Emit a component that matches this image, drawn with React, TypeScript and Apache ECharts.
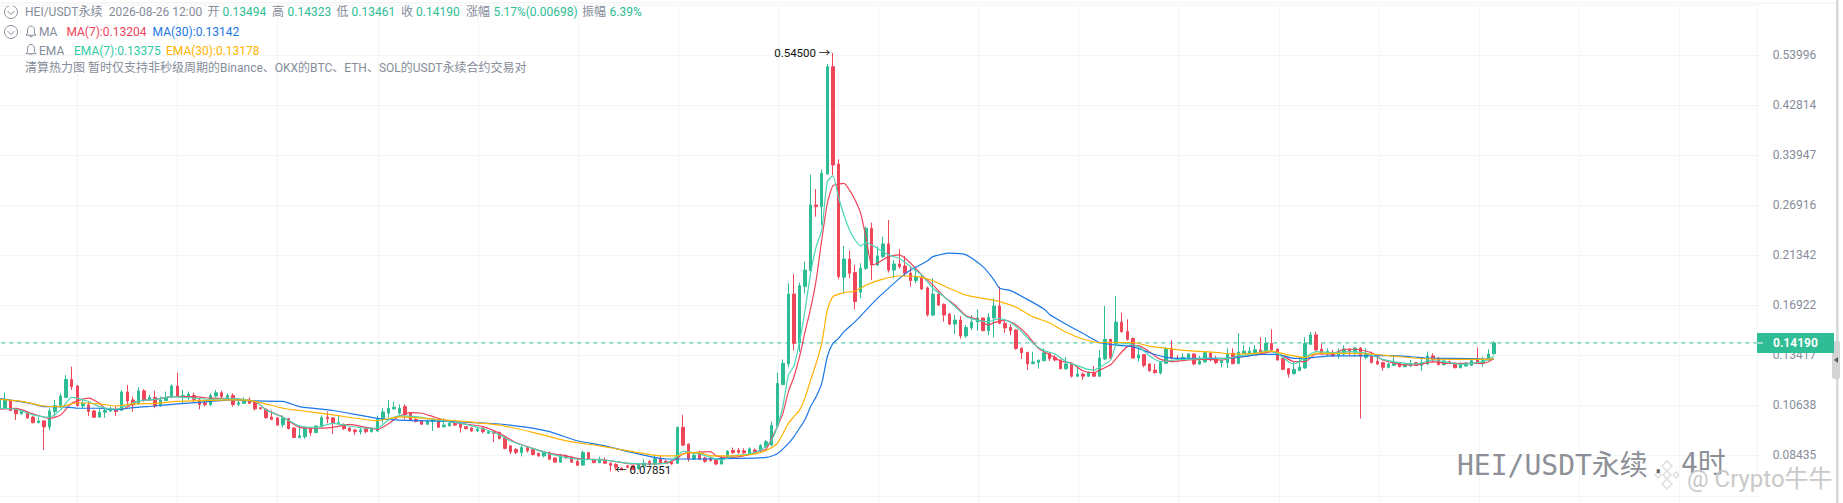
import React, { useEffect, useRef } from "react";
import * as echarts from "echarts";

const UP = "#2ebd94";
const DOWN = "#f0465a";
const MA7_COLOR = "#f0435a";
const MA30_COLOR = "#1a78e6";
const EMA7_COLOR = "#4ad6b6";
const EMA30_COLOR = "#ffb300";
const GRID = "#f4f5f6";
const GRAY = "#868c9a";
const FONT = 'Roboto, "Noto Sans CJK SC", sans-serif';

const priceTicks = ["", "0.08435", "0.10638", "0.13417", "0.16922", "0.21342", "0.26916", "0.33947", "0.42814", "0.53996", ""];
const priceMin = 0.06688;
const priceMax = 0.68101;
const lastPrice = 0.1419;
const LEAD = 4;
const TRAIL = 48;

// [open, close, low, high]
const candles: number[][] = [
[.1045,.1092,.1045,.1095],[.1048,.1089,.1045,.1128],[.1084,.1037,.1034,.1089],[.1043,.1021,.0992,.1048],[.1021,.1032,.1018,.1043],
[.1027,.1002,.0998,.1030],[.1006,.0980,.0977,.1011],[.0980,.0988,.0977,.1004],[.0988,.0961,.0863,.0992],[.0961,.1035,.0947,.1048],
[.1032,.1061,.1008,.1089],[.1061,.1109,.1048,.1123],[.1102,.1198,.1098,.1223],[.1198,.1158,.1141,.1271],[.1162,.1061,.1056,.1167],
[.1059,.1072,.1048,.1089],[.1064,.1032,.1011,.1081],[.1035,.1005,.1002,.1040],[.1006,.1029,.1002,.1048],[.1029,.1037,.1002,.1048],
[.1035,.1043,.1030,.1056],[.1043,.1032,.1011,.1056],[.1038,.1130,.1034,.1141],[.1130,.1084,.1056,.1167],[.1089,.1064,.1030,.1106],
[.1072,.1136,.1064,.1155],[.1136,.1089,.1079,.1145],[.1089,.1102,.1084,.1115],[.1102,.1059,.1048,.1137],[.1059,.1089,.1056,.1106],
[.1086,.1102,.1084,.1132],[.1102,.1162,.1098,.1171],[.1162,.1106,.1102,.1236],[.1102,.1112,.1072,.1141],[.1106,.1119,.1089,.1132],
[.1112,.1092,.1075,.1126],[.1089,.1066,.1043,.1102],[.1075,.1066,.1056,.1092],[.1066,.1112,.1059,.1123],[.1109,.1126,.1102,.1141],
[.1126,.1106,.1100,.1137],[.1102,.1112,.1089,.1123],[.1112,.1066,.1056,.1123],[.1067,.1075,.1059,.1092],[.1072,.1089,.1069,.1102],
[.1089,.1072,.1069,.1102],[.1079,.1045,.1037,.1089],[.1050,.1045,.1043,.1053],[.1043,.1003,.0998,.1048],[.1006,.0995,.0992,.1037],
[.1002,.0969,.0968,.1005],[.0971,.1002,.0959,.1014],[.0998,.0953,.0950,.1002],[.0956,.0915,.0912,.0959],[.0915,.0922,.0911,.0968],
[.0918,.0958,.0909,.0962],[.0955,.0936,.0922,.0959],[.0936,.0965,.0933,.0968],[.0962,.1003,.0959,.1014],[.1005,.0998,.0977,.1032],
[.1002,.0977,.0930,.1005],[.0977,.0980,.0974,.1011],[.0971,.0953,.0947,.0977],[.0956,.0943,.0939,.0959],[.0947,.0940,.0926,.0953],
[.0940,.0947,.0927,.0959],[.0953,.0940,.0933,.0959],[.0940,.0952,.0936,.0959],[.0943,.0995,.0939,.1011],[.0995,.1030,.0977,.1048],
[.1024,.1048,.1003,.1089],[.1045,.1053,.1040,.1081],[.1024,.1048,.1016,.1067],[.1056,.1018,.0995,.1067],[.1024,.0992,.0988,.1027],
[.0995,.0986,.0981,.1000],[.0989,.0973,.0970,.0992],[.0973,.0986,.0970,.0995],[.0985,.0995,.0943,.1000],[.0989,.0959,.0958,.0995],
[.0962,.0969,.0958,.1000],[.0966,.0977,.0962,.0985],[.0977,.0969,.0965,.0983],[.0974,.0959,.0936,.0985],[.0962,.0953,.0950,.0965],
[.0956,.0943,.0939,.0959],[.0943,.0951,.0939,.0959],[.0953,.0940,.0933,.0962],[.0933,.0940,.0930,.0947],[.0938,.0933,.0895,.0941],
[.0937,.0910,.0907,.0940],[.0913,.0870,.0866,.0919],[.0880,.0856,.0847,.0882],[.0866,.0854,.0847,.0870],[.0853,.0873,.0838,.0880],
[.0873,.0860,.0853,.0880],[.0866,.0845,.0842,.0870],[.0850,.0840,.0837,.0853],[.0840,.0853,.0833,.0858],[.0853,.0827,.0824,.0857],
[.0832,.0816,.0814,.0834],[.0816,.0842,.0814,.0848],[.0840,.0833,.0829,.0845],[.0834,.0816,.0814,.0837],[.0819,.0804,.0802,.0827],
[.0805,.0853,.0804,.0861],[.0853,.0829,.0824,.0855],[.0824,.0814,.0812,.0829],[.0814,.0827,.0812,.0837],[.0824,.0812,.0809,.0834],
[.0812,.0804,.0782,.0814],[.0807,.0797,.07851,.0812],[.0793,.0787,.0786,.0797],[.0802,.0797,.0793,.0805],[.0802,.0789,.0786,.0805],
[.0792,.0807,.0787,.0812],[.0802,.0812,.0797,.0827],[.0818,.0807,.0802,.0824],[.0809,.0829,.0804,.0845],[.0829,.0812,.0807,.0840],
[.0819,.0812,.0809,.0824],[.0817,.0809,.0807,.0819],[.0812,.0959,.0809,.0962],[.0959,.0883,.0880,.1016],[.0887,.0827,.0818,.0890],
[.0827,.0843,.0824,.0850],[.0848,.0827,.0824,.0860],[.0832,.0819,.0814,.0837],[.0829,.0822,.0818,.0843],[.0824,.0809,.0804,.0827],
[.0809,.0834,.0807,.0840],[.0832,.0858,.0829,.0863],[.0861,.0853,.0847,.0873],[.0862,.0854,.0848,.0872],[.0860,.0852,.0849,.0870],
[.0850,.0868,.0847,.0874],[.0863,.0853,.0850,.0870],[.0860,.0882,.0855,.0887],[.0877,.0897,.0870,.0904],[.0883,.0968,.0880,.0985],
[.0965,.1176,.0962,.1236],[.1170,.1291,.1165,.1314],[.1287,.1780,.1267,.1871],[.1780,.1416,.1370,.1953],[.1420,.1850,.1362,.1878],
[.1843,.1990,.1786,.2070],[.1985,.2692,.1976,.3098],[.2692,.2671,.2550,.2898],[.2671,.3118,.2453,.3176],[.3108,.5115,.3103,.5178],
[.5115,.3241,.3094,.5450],[.3256,.1931,.1907,.3328],[.1925,.2094,.1786,.2226],[.2094,.1961,.1916,.2179],[.1967,.1719,.1659,.2038],
[.1796,.2006,.1746,.2054],[.2006,.2415,.1990,.2434],[.2415,.2038,.1902,.2480],[.2038,.2125,.2028,.2219],[.2118,.2247,.2108,.2323],
[.2247,.1990,.1967,.2510],[.1990,.2047,.1916,.2085],[.2047,.2022,.2003,.2192],[.2028,.1961,.1931,.2125],[.1961,.1896,.1844,.2022],
[.1896,.1931,.1872,.2022],[.1919,.1823,.1815,.1943],[.1832,.1617,.1604,.1844],[.1615,.1780,.1608,.1915],[.1780,.1692,.1684,.1786],
[.1697,.1615,.1566,.1705],[.1623,.1549,.1542,.1628],[.1549,.1578,.1479,.1615],[.1578,.1466,.1447,.1608],[.1466,.1525,.1453,.1542],
[.1523,.1564,.1507,.1615],[.1564,.1593,.1502,.1658],[.1593,.1502,.1498,.1598],[.1502,.1598,.1470,.1628],[.1593,.1684,.1456,.1745],
[.1684,.1554,.1547,.1843],[.1554,.1521,.1488,.1583],[.1525,.1502,.1470,.1549],[.1507,.1382,.1374,.1512],[.1384,.1356,.1317,.1390],
[.1358,.1287,.1251,.1362],[.1289,.1299,.1285,.1362],[.1297,.1309,.1259,.1315],[.1307,.1356,.1303,.1384],[.1352,.1319,.1305,.1356],
[.1327,.1311,.1303,.1342],[.1311,.1259,.1255,.1315],[.1259,.1287,.1251,.1328],[.1291,.1216,.1209,.1295],[.1216,.1228,.1213,.1271],
[.1228,.1216,.1195,.1236],[.1216,.1236,.1213,.1244],[.1236,.1216,.1213,.1275],[.1216,.1323,.1213,.1373],[.1317,.1443,.1311,.1684],
[.1443,.1323,.1315,.1447],[.1416,.1563,.1405,.1763],[.1563,.1495,.1488,.1633],[.1497,.1443,.1434,.1583],[.1449,.1323,.1319,.1456],
[.1323,.1342,.1301,.1384],[.1344,.1279,.1267,.1348],[.1287,.1247,.1241,.1291],[.1251,.1236,.1232,.1287],[.1234,.1295,.1226,.1299],
[.1291,.1382,.1287,.1395],[.1384,.1321,.1315,.1438],[.1323,.1315,.1307,.1342],[.1315,.1327,.1309,.1352],[.1319,.1348,.1311,.1352],
[.1348,.1287,.1279,.1352],[.1287,.1305,.1281,.1336],[.1299,.1356,.1295,.1363],[.1354,.1323,.1303,.1356],[.1315,.1295,.1287,.1336],
[.1295,.1307,.1267,.1319],[.1295,.1348,.1263,.1384],[.1352,.1289,.1285,.1384],[.1291,.1360,.1283,.1484],[.1352,.1366,.1348,.1405],
[.1352,.1366,.1348,.1395],[.1352,.1375,.1348,.1405],[.1373,.1360,.1356,.1457],[.1360,.1416,.1352,.1457],[.1416,.1373,.1369,.1512],
[.1378,.1311,.1307,.1384],[.1319,.1255,.1251,.1323],[.1259,.1228,.1208,.1263],[.1230,.1255,.1226,.1301],[.1249,.1269,.1245,.1328],
[.1263,.1416,.1259,.1457],[.1410,.1473,.1408,.1493],[.1473,.1373,.1369,.1495],[.1378,.1348,.1342,.1416],[.1348,.1365,.1336,.1384],
[.1356,.1336,.1332,.1373],[.1340,.1363,.1319,.1384],[.1348,.1378,.1336,.1403],[.1378,.1360,.1336,.1386],[.1360,.1386,.1332,.1395],
[.1386,.1336,.0999,.1391],[.1327,.1348,.1315,.1386],[.1336,.1295,.1291,.1363],[.1303,.1287,.1281,.1328],[.1295,.1267,.1247,.1301],
[.1267,.1287,.1261,.1295],[.1279,.1295,.1275,.1332],[.1295,.1271,.1267,.1299],[.1271,.1283,.1267,.1291],[.1275,.1291,.1271,.1311],
[.1295,.1279,.1275,.1299],[.1279,.1295,.1247,.1321],[.1287,.1336,.1283,.1363],[.1336,.1315,.1295,.1352],[.1323,.1283,.1279,.1328],
[.1283,.1305,.1279,.1321],[.1301,.1291,.1287,.1307],[.1291,.1265,.1261,.1299],[.1265,.1285,.1261,.1295],[.1275,.1291,.1271,.1299],
[.1279,.1307,.1275,.1315],[.1311,.1295,.1291,.1389],[.1293,.1307,.1271,.1332],[.1311,.1348,.1307,.1378],[.13494,.1419,.13461,.14323],
];

// [candle number, value]; read at every few candles
const ma7: number[][] = [
[0,.1043],[3,.1047],[6,.1021],[9,.1000],[11,.1016],[13,.1072],[16,.1098],[18,.1072],[19,.1048],[22,.1043],[25,.1084],[28,.1092],[31,.1106],[35,.1106],[38,.1098],[42,.1096],[46,.1081],[48,.1040],[51,.1005],[54,.0959],[57,.0955],[60,.0959],[63,.0972],[66,.0959],[68,.0950],[70,.0975],[72,.1011],[74,.1027],[76,.1024],[78,.1008],[81,.0985],[84,.0974],[87,.0962],[90,.0933],[93,.0893],[96,.0870],[99,.0850],[102,.0840],[105,.0827],[108,.0826],[111,.0818],[114,.0809],[117,.0809],[120,.0812],[122,.0830],[123,.0848],[125,.0853],[128,.0857],[129,.0840],[131,.0834],[134,.0840],[136,.0853],[137,.0861],[138,.0866],[139,.0912],[140,.0962],[141,.1023],[142,.1132],[143,.1213],[144,.1331],[145,.1495],[146,.1666],[147,.1900],[148,.2288],[149,.2713],[150,.2943],[151,.2965],[152,.2975],[153,.2885],[154,.2755],[155,.2590],[156,.2305],[157,.2038],[158,.2054],[160,.2118],[162,.2135],[164,.2054],[166,.1945],[168,.1858],[170,.1759],[172,.1692],[174,.1610],[176,.1583],[178,.1542],[179,.1559],[181,.1578],[183,.1542],[185,.1472],[187,.1384],[189,.1345],[191,.1305],[193,.1291],[195,.1247],[197,.1236],[198,.1251],[200,.1283],[201,.1321],[203,.1395],[205,.1401],[206,.1384],[208,.1336],[209,.1315],[211,.1301],[214,.1311],[217,.1315],[220,.1311],[222,.1327],[226,.1342],[229,.1363],[231,.1336],[233,.1301],[235,.1301],[237,.1348],[240,.1348],[242,.1378],[244,.1378],[247,.1356],[249,.1311],[253,.1281],[255,.1281],[258,.1301],[260,.1291],[263,.1291],[267,.1290],[268,.1300],[269,.13204],
];
const ma30: number[][] = [
[0,.1096],[3,.1084],[6,.1069],[8,.1056],[11,.1056],[14,.1048],[18,.1048],[21,.1040],[24,.1051],[28,.1059],[32,.1069],[36,.1077],[42,.1089],[46,.1084],[51,.1082],[54,.1056],[60,.1037],[68,.1000],[72,.0992],[78,.0988],[84,.0982],[90,.0974],[95,.0959],[99,.0940],[104,.0901],[109,.0880],[114,.0853],[120,.0828],[126,.0828],[132,.0830],[138,.0834],[140,.0848],[142,.0890],[143,.0919],[144,.0955],[145,.0995],[146,.1056],[147,.1106],[148,.1176],[149,.1331],[150,.1416],[151,.1449],[152,.1495],[154,.1566],[156,.1653],[158,.1745],[160,.1828],[162,.1915],[164,.1991],[167,.2075],[168,.2118],[171,.2152],[174,.2135],[177,.2022],[179,.1902],[180,.1829],[182,.1809],[185,.1737],[188,.1661],[189,.1620],[192,.1548],[195,.1484],[198,.1422],[201,.1405],[204,.1395],[207,.1356],[210,.1327],[213,.1321],[217,.1321],[221,.1321],[224,.1331],[227,.1346],[230,.1346],[233,.1321],[235,.1321],[237,.1329],[240,.1336],[245,.1336],[250,.1338],[254,.1331],[257,.1323],[260,.1321],[265,.1320],[269,.13142],
];
const ema7: number[][] = [
[0,.1048],[3,.1043],[6,.1016],[9,.1005],[11,.1040],[13,.1102],[16,.1081],[18,.1056],[21,.1043],[25,.1084],[28,.1092],[31,.1106],[35,.1098],[38,.1092],[42,.1096],[46,.1081],[48,.1040],[51,.1005],[54,.0965],[57,.0959],[60,.0977],[63,.0965],[66,.0955],[68,.0955],[70,.0992],[72,.1011],[75,.1008],[78,.0995],[83,.0977],[87,.0953],[90,.0926],[92,.0900],[96,.0869],[100,.0843],[104,.0827],[109,.0824],[113,.0812],[117,.0809],[120,.0812],[122,.0840],[123,.0858],[126,.0848],[128,.0834],[130,.0824],[132,.0840],[135,.0848],[137,.0863],[138,.0880],[139,.0904],[140,.0962],[141,.1056],[142,.1223],[143,.1275],[144,.1427],[145,.1653],[146,.1960],[147,.2219],[148,.2397],[149,.3000],[150,.3080],[151,.2797],[152,.2570],[153,.2397],[154,.2288],[155,.2226],[156,.2260],[158,.2202],[160,.2135],[162,.2100],[164,.2022],[166,.1945],[168,.1829],[170,.1759],[172,.1679],[174,.1603],[176,.1578],[178,.1566],[180,.1590],[182,.1561],[184,.1495],[186,.1416],[188,.1369],[190,.1348],[192,.1301],[194,.1277],[196,.1255],[197,.1251],[198,.1267],[200,.1311],[201,.1405],[203,.1414],[205,.1395],[207,.1336],[209,.1301],[212,.1313],[215,.1317],[218,.1323],[221,.1319],[223,.1336],[226,.1348],[228,.1369],[230,.1352],[232,.1301],[233,.1287],[235,.1327],[237,.1363],[240,.1356],[243,.1363],[246,.1352],[249,.1315],[253,.1291],[255,.1287],[258,.1311],[260,.1301],[263,.1285],[266,.1295],[268,.1315],[269,.13375],
];
const ema30: number[][] = [
[0,.1092],[4,.1082],[8,.1059],[11,.1056],[14,.1075],[18,.1069],[21,.1059],[24,.1069],[28,.1072],[32,.1082],[36,.1086],[42,.1089],[46,.1082],[51,.1048],[54,.1037],[60,.1016],[68,.0989],[72,.1007],[78,.0997],[84,.0985],[90,.0969],[96,.0937],[102,.0901],[108,.0880],[114,.0857],[119,.0840],[122,.0840],[124,.0853],[126,.0853],[128,.0840],[132,.0840],[136,.0848],[138,.0861],[140,.0890],[142,.0977],[143,.1008],[144,.1039],[145,.1101],[146,.1195],[147,.1291],[148,.1416],[149,.1653],[150,.1758],[152,.1792],[154,.1805],[156,.1857],[159,.1908],[162,.1936],[165,.1932],[168,.1894],[171,.1827],[174,.1772],[177,.1745],[180,.1719],[183,.1674],[186,.1603],[189,.1557],[192,.1491],[195,.1445],[198,.1422],[201,.1422],[204,.1422],[207,.1398],[210,.1384],[214,.1369],[219,.1358],[222,.1348],[226,.1352],[229,.1366],[232,.1342],[235,.1325],[237,.1352],[242,.1352],[247,.1348],[252,.1331],[258,.1317],[262,.1315],[266,.1315],[269,.13178],
];

const categories: string[] = [];
for (let k = 0; k < LEAD + candles.length + TRAIL; k++) {
  const t = new Date(Date.UTC(2026, 7, 26, 12) + (k - LEAD - candles.length + 1) * 4 * 3600000);
  categories.push(t.toISOString().slice(0, 16).replace("T", " "));
}

const shiftLine = (pts: number[][]) => pts.map(([i, v]) => [i + LEAD, v]);

const lineSeries = (name: string, pts: number[][], color: string) => ({
  type: "line",
  name,
  data: shiftLine(pts),
  showSymbol: false,
  symbol: "none",
  smooth: 0.2,
  silent: true,
  lineStyle: { color, width: 1.2 },
  z: 5,
});

const txt = (text: string, x: number, y: number, fill: string, fontSize = 12, fontFamily = FONT, extra: any = {}) => ({
  type: "text",
  x,
  y,
  silent: true,
  z: 20,
  style: { text, fill, fontSize, fontFamily, verticalAlign: "middle", align: "left", ...extra },
});

const chevron = (cx: number, cy: number) => [
  { type: "circle", shape: { cx, cy, r: 6.5 }, silent: true, style: { fill: "none", stroke: "#858b99", lineWidth: 1 } },
  { type: "polyline", shape: { points: [[cx - 3.5, cy - 1], [cx, cy + 2.5], [cx + 3.5, cy - 1]] }, silent: true, style: { fill: "none", stroke: "#858b99", lineWidth: 1 } },
];

const bell = (x: number, y: number) => ({ type: "bell", x, y, silent: true, style: { fill: "none", stroke: "#858b99", lineWidth: 1 } });

const logoDiamond = (cx: number, cy: number, r: number) => ({
  type: "polygon",
  shape: { points: [[cx, cy - r], [cx + r, cy], [cx, cy + r], [cx - r, cy]] },
  silent: true,
  style: { fill: "none", stroke: "#dedede", lineWidth: 1.5 },
});

export default function App() {
  const ref = useRef<HTMLDivElement>(null);
  useEffect(() => {
    if (!ref.current) return;
    echarts.graphic.registerShape(
      "bell",
      echarts.graphic.extendPath("M5 0C2.6 0 1.6 2 1.6 4V7L0 9.2H10L8.4 7V4C8.4 2 7.4 0 5 0ZM3.6 10.6H6.4", {})
    );
    const chart = echarts.init(ref.current, undefined, { renderer: "svg" });
    const graphic: any[] = [
      { type: "line", shape: { x1: 0, y1: 3, x2: 1837, y2: 3 }, silent: true, style: { stroke: "#eeeeee", lineWidth: 1 } },
      { type: "line", shape: { x1: 0, y1: 496.5, x2: 1762, y2: 496.5 }, silent: true, style: { stroke: GRID, lineWidth: 1 } },
      { type: "line", shape: { x1: 1757, y1: 3, x2: 1757, y2: 497 }, silent: true, style: { stroke: GRID, lineWidth: 1 } },
      { type: "rect", shape: { x: 1836, y: 0, width: 2.5, height: 503 }, silent: true, style: { fill: "#d8d8d8" } },
      { type: "rect", shape: { x: 1832, y: 341, width: 8, height: 38, r: 2 }, silent: true, style: { fill: "#d4d4d4" } },
      { type: "polygon", shape: { points: [[1834, 360], [1838, 357], [1838, 363]] }, silent: true, style: { fill: "#555a60" } },
      { type: "rect", shape: { x: 1757, y: 333, width: 77, height: 20 }, silent: true, z: 15, style: { fill: UP } },
      { type: "line", shape: { x1: 1757, y1: 343, x2: 1763, y2: 343 }, silent: true, z: 16, style: { stroke: "#ffffff", lineWidth: 1 } },
      txt("0.14190", 1773, 343, "#ffffff", 12, FONT, { fontWeight: "bold" }),
      ...chevron(11, 12),
      ...chevron(11, 32),
      txt("HEI/USDT永续", 25, 12, GRAY),
      txt("2026-08-26 12:00", 108.7, 12, GRAY),
      txt("开", 207.6, 12, GRAY), txt("0.13494", 222.6, 12, UP),
      txt("高", 272, 12, GRAY), txt("0.14323", 287.5, 12, UP),
      txt("低", 336.5, 12, GRAY), txt("0.13461", 351.5, 12, UP),
      txt("收", 401, 12, GRAY), txt("0.14190", 416, 12, UP),
      txt("涨幅", 466, 12, GRAY), txt("5.17%(0.00698)", 493.5, 12, UP),
      txt("振幅", 582, 12, GRAY), txt("6.39%", 609.5, 12, UP),
      bell(26, 26), txt("MA", 39, 32, GRAY),
      txt("MA(7):0.13204", 66.4, 32, MA7_COLOR), txt("MA(30):0.13142", 152.6, 32, MA30_COLOR),
      bell(26, 44.5), txt("EMA", 39, 50.5, GRAY),
      txt("EMA(7):0.13375", 74, 50.5, "#35c9a5"), txt("EMA(30):0.13178", 166, 50.5, EMA30_COLOR),
      txt("清算热力图 暂时仅支持非秒级周期的Binance、OKX的BTC、ETH、SOL的USDT永续合约交易对", 25, 68, GRAY),
      txt("HEI/USDT永续", 1457, 465, "#8d9096", 28, '"DejaVu Sans Mono", "Noto Sans CJK SC", monospace'),
      txt(".", 1651, 465, "#60646a", 24, '"DejaVu Sans Mono", monospace'),
      txt("4时", 1681, 463, "#8d9096", 28, '"DejaVu Sans Mono", "Noto Sans CJK SC", monospace'),
      logoDiamond(1667, 475, 4),
      logoDiamond(1658, 475, 3),
      logoDiamond(1676, 475, 3),
      logoDiamond(1667, 466, 5),
      logoDiamond(1667, 484, 5),
      txt("@ Crypto牛牛", 1687, 479, "#c9c9c9", 24, 'Roboto, "Noto Sans CJK SC", sans-serif'),
    ];

    chart.setOption({
      animation: false,
      backgroundColor: "#ffffff",
      grid: { left: -22.7, top: 5, width: 1783.33, height: 500, containLabel: false, outerBoundsMode: "none" },
      xAxis: [
        {
          type: "category",
          data: categories,
          boundaryGap: false,
          show: true,
          axisLine: { show: false },
          axisTick: { show: false },
          axisLabel: { show: false },
          splitLine: { show: false },
        },
        {
          type: "value",
          min: 0,
          max: 1781.3,
          interval: 100,
          axisLine: { show: false },
          axisTick: { show: false },
          axisLabel: { show: false },
          splitLine: { show: true, showMaxLine: false, lineStyle: { color: GRID, width: 1 } },
        },
      ],
      yAxis: [
        { type: "log", min: priceMin, max: priceMax, show: false, splitLine: { show: false } },
        {
          type: "category",
          data: priceTicks,
          boundaryGap: false,
          position: "right",
          axisLine: { show: false },
          axisTick: { show: false },
          axisLabel: { show: true, interval: 0, margin: 12, color: GRAY, fontSize: 12, fontFamily: FONT },
          splitLine: { show: true, interval: 0, lineStyle: { color: GRID, width: 1 } },
        },
      ],
      series: [
        {
          type: "line",
          name: "last price",
          data: [[0, lastPrice], [categories.length - 1, lastPrice]],
          showSymbol: false,
          symbol: "none",
          silent: true,
          z: 2,
          lineStyle: { color: UP, width: 1, type: [4, 4] },
        },
        {
          type: "candlestick",
          name: "HEI/USDT",
          data: [...Array(LEAD).fill("-"), ...candles],
          barWidth: 3,
          clip: true,
          z: 3,
          itemStyle: { color: UP, color0: DOWN, borderColor: UP, borderColor0: DOWN, borderWidth: 1 },
          markPoint: {
            silent: true,
            symbol: "circle",
            symbolSize: 1,
            itemStyle: { color: "transparent" },
            data: [
              {
                coord: [150 + LEAD, 0.545],
                label: { show: true, position: "left", distance: 2, formatter: "0.54500 →", color: "#111111", fontSize: 11.5, fontFamily: FONT },
              },
              {
                coord: [110 + LEAD, 0.07851],
                label: { show: true, position: "right", distance: 4, formatter: "← 0.07851", color: "#111111", fontSize: 11.5, fontFamily: FONT },
              },
            ],
          },
        },
        lineSeries("MA(7)", ma7, MA7_COLOR),
        lineSeries("MA(30)", ma30, MA30_COLOR),
        lineSeries("EMA(7)", ema7, EMA7_COLOR),
        lineSeries("EMA(30)", ema30, EMA30_COLOR),
      ],
      graphic,
    });
    return () => chart.dispose();
  }, []);
  return <div ref={ref} style={{ position: "fixed", left: 0, top: 0, width: 1843, height: 503 }} />;
}
